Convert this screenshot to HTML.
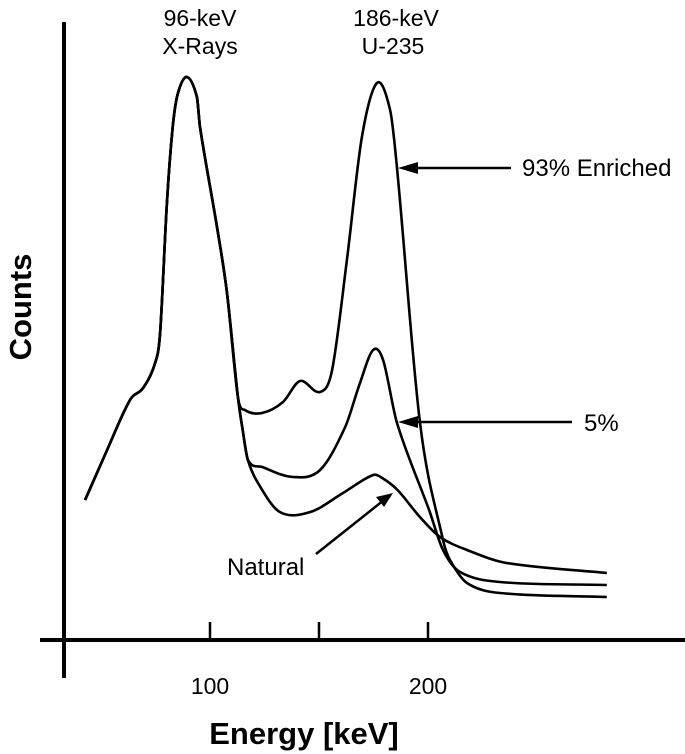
<!DOCTYPE html>
<html><head><meta charset="utf-8"><style>
body{margin:0;background:#fff;}
svg{display:block;font-family:"Liberation Sans",Arial,sans-serif;}
</style></head><body>
<svg id="chart" width="685" height="754" viewBox="0 0 685 754">
  <g id="axes"></g>
  <g id="series"></g>
  <g>
    <text x="200" y="26" font-size="23" text-anchor="middle">96-keV</text>
    <text x="200" y="54" font-size="23" text-anchor="middle">X-Rays</text>
    <text x="396" y="26" font-size="23" text-anchor="middle">186-keV</text>
    <text x="393" y="54" font-size="23" text-anchor="middle">U-235</text>
    <line x1="511" y1="168" x2="410" y2="168" stroke="#000" stroke-width="2.5"/>
    <polygon points="398,168 418,162 418,174" fill="#000"/>
    <text x="522" y="176" font-size="24">93% Enriched</text>
    <line x1="572" y1="422" x2="410" y2="422" stroke="#000" stroke-width="2.5"/>
    <polygon points="398,422 418,416 418,428" fill="#000"/>
    <text x="584" y="431" font-size="24">5%</text>
    <line x1="316" y1="554" x2="384" y2="500" stroke="#000" stroke-width="2.5"/>
    <polygon points="393,493 376,497 384,507" fill="#000"/>
    <text x="227" y="575" font-size="24">Natural</text>
    <text x="304" y="744" font-size="31" font-weight="bold" text-anchor="middle">Energy [keV]</text>
    <text x="0" y="0" font-size="31" font-weight="bold" text-anchor="middle" transform="translate(31,307) rotate(-90)">Counts</text>
  </g>
</svg>
<script>
const commonE = [42.7, 51.8, 63.3, 69.3, 74.8, 77.1, 80.3, 83, 85.3, 89.4, 94, 95.4, 103.2, 107.8, 112.8];
const commonC = [140, 185, 240, 252, 277, 307, 440, 515, 547, 563, 543, 513, 413, 347, 243];
const e93 = [116, 123.9, 133.5, 141.3, 150.5, 156, 162.8, 169.7, 176.6, 182.6, 185.8, 196.3, 206.9, 210.1, 217.9, 233, 282];
const c93 = [230, 227, 238, 259, 248, 270, 380, 503, 557, 530, 472, 218, 100, 80, 57, 47, 43];
const e5 = [115, 117.4, 124, 138, 150.5, 162, 168.8, 174.8, 179.4, 185.8, 200.5, 206.9, 214.7, 233, 282];
const c5 = [210, 180, 173, 163, 170, 213, 257, 290, 280, 217, 130, 90, 68, 58, 55];
const eNat = [115, 117.4, 122, 132, 146, 161, 174.8, 179, 186, 196.3, 205.5, 217.9, 236, 282];
const cNat = [210, 180, 157, 128, 128, 147, 165, 162, 150, 123, 103, 90, 77, 67];
const xTicks = [100, 150, 200];
const xTickLabels = ["100", "", "200"];

const NS = "http://www.w3.org/2000/svg";
function xs(e){ return 210 + (e - 100) * 2.18; }
function ys(c){ return 640 - c; }

const axes = document.getElementById('axes');
function mk(tag, attrs, parent){
  const el = document.createElementNS(NS, tag);
  for (const k in attrs) el.setAttribute(k, attrs[k]);
  parent.appendChild(el);
  return el;
}
const ya = mk('line', {x1:64, y1:22, x2:64, y2:678, stroke:'#000', 'stroke-width':4}, axes);


const xa = mk('line', {x1:40, y1:640, x2:685, y2:640, stroke:'#000', 'stroke-width':4}, axes);


xTicks.forEach((t, i) => {
  const tk = mk('line', {x1:xs(t), y1:622, x2:xs(t), y2:640, stroke:'#000', 'stroke-width':2.5}, axes);
  
  
  if (xTickLabels[i]) {
    const tl = mk('text', {x:xs(t), y:694, 'font-size':23, 'text-anchor':'middle'}, axes);
    tl.textContent = xTickLabels[i];
    
    
  }
});

function pathFrom(E, C){
  const p = E.map((e, i) => [xs(e), ys(C[i])]);
  const n = p.length;
  const m = p.map((q, i) => {
    const a = p[Math.max(0, i-1)], b = p[Math.min(n-1, i+1)];
    return (b[1]-a[1]) / (b[0]-a[0]);
  });
  let d = 'M' + p[0][0].toFixed(1) + ',' + p[0][1].toFixed(1);
  for (let i = 0; i < n - 1; i++) {
    const h = p[i+1][0] - p[i][0];
    const c1 = [p[i][0] + h/3, p[i][1] + m[i]*h/3];
    const c2 = [p[i+1][0] - h/3, p[i+1][1] - m[i+1]*h/3];
    d += ' C' + c1.map(v=>v.toFixed(1)).join(',') + ' ' + c2.map(v=>v.toFixed(1)).join(',') + ' ' + p[i+1][0].toFixed(1) + ',' + p[i+1][1].toFixed(1);
  }
  return d;
}
const series = document.getElementById('series');
const defs = [['series-93-enriched', e93, c93], ['series-5-percent', e5, c5], ['series-natural', eNat, cNat]];
defs.forEach(([name, E, C]) => {
  const path = mk('path', {d: pathFrom(commonE.concat(E), commonC.concat(C)), fill:'none', stroke:'#000', 'stroke-width':2.6, 'stroke-linejoin':'round'}, series);
  
  
});
</script>
</body></html>
